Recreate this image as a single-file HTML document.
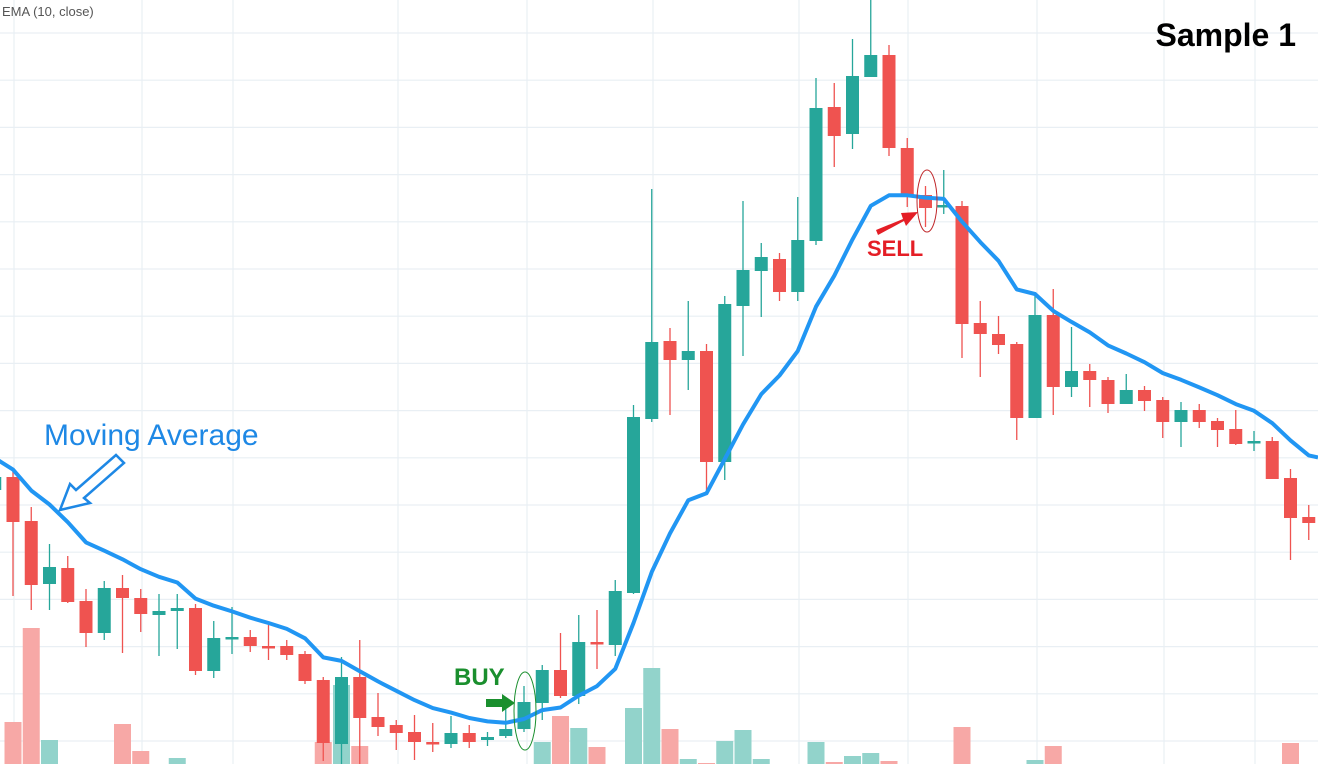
<!DOCTYPE html>
<html><head><meta charset="utf-8"><style>
html,body{margin:0;padding:0;background:#fff;}
svg{display:block;font-family:"Liberation Sans",sans-serif;}
</style></head><body>
<svg id="chart" width="1318" height="764" viewBox="0 0 1318 764" xmlns="http://www.w3.org/2000/svg">
<g id="grid"></g>
<g id="vol"></g>
<g id="candles"></g>
<path id="ema" fill="none" stroke="#2196f3" stroke-width="4" stroke-linejoin="round"/>
<text x="2" y="16" font-size="13" fill="#555">EMA (10, close)</text>
<text x="1296" y="46" font-size="32" font-weight="bold" fill="#000" text-anchor="end">Sample 1</text>
<text x="44" y="445" font-size="30" fill="#1e88e5">Moving Average</text>
<path d="M60,510 L70,484 L76,490 L116,455 L124,463 L84,498 L90,503 Z" fill="#fff" stroke="#1e88e5" stroke-width="2.5"/>
<text x="454" y="685" font-size="24" font-weight="bold" fill="#1a8f2e">BUY</text>
<path d="M486,699 L502,699 L502,694 L515,703 L502,712 L502,707 L486,707 Z" fill="#1a8f2e"/>
<ellipse cx="525" cy="711" rx="11" ry="39" fill="none" stroke="#1a8f2e" stroke-width="1"/>
<text x="867" y="256" font-size="22" font-weight="bold" fill="#e41e26">SELL</text>
<path d="M876,230 L903,219 L901,213 L918,212 L906,226 L904,221 L878,235 Z" fill="#e41e26"/>
<ellipse cx="927" cy="201" rx="10" ry="31" fill="none" stroke="#c0282b" stroke-width="1"/>
</svg>
<script>
// price values (higher = up), one entry per candle
const opens  = [274,287,243,180,196,163,131,176,166,149,153,156,93,125,127,118,118,110,84,20,87,47,39,32,22,20,31,24,28,35,61,94,68,122,119,171,345,423,404,413,302,458,493,505,472,523,657,630,687,709,616,569,557,558,441,430,420,346,449,377,393,384,360,374,364,342,354,343,335,321,323,286,247];
const highs  = [294,292,257,220,208,175,183,189,175,170,170,160,143,157,134,139,124,113,87,107,124,71,44,49,41,48,39,32,57,78,99,131,149,154,184,359,575,436,463,420,468,563,521,511,567,686,681,725,764,719,626,578,594,563,463,448,422,471,475,437,400,387,390,378,367,362,360,346,354,333,327,295,259];
const lows   = [269,168,154,154,161,117,124,111,132,108,115,89,86,110,112,104,104,80,3,0,0,28,14,4,12,16,16,18,26,32,44,66,60,95,108,170,342,349,374,274,284,408,447,463,463,519,597,615,687,608,557,537,550,406,387,410,324,346,349,367,357,351,360,353,326,317,336,317,319,313,285,204,224];
const closes = [287,242,179,197,162,131,176,166,150,153,156,93,126,127,118,117,109,83,21,87,46,37,31,22,20,31,22,27,35,62,94,68,122,121,173,347,422,404,413,302,460,494,507,472,524,656,628,688,709,616,569,556,559,440,430,419,346,449,377,393,384,360,374,363,342,354,342,334,320,323,285,246,241];
const volumes = [0,42,136,24,0,0,0,40,13,0,6,0,0,0,0,0,0,0,22,79,18,0,0,0,0,0,0,0,0,0,22,48,36,17,0,56,96,35,5,1,23,34,5,0,0,22,2,8,11,3,0,0,0,37,0,0,0,4,18,0,0,0,0,0,0,0,0,0,0,0,0,21,0];
const emaPeriod = 10;
const emaSeed = 306;

const NS = "http://www.w3.org/2000/svg";
const xScale = i => -5.25 + i * 18.25;
const yScale = p => 764 - p;
const vScale = v => 764 - v;

const grid = document.getElementById('grid');
for (let n = 0; n < 16; n++) {
  const y = 33 + n * 47.2;
  const l = document.createElementNS(NS, 'line');
  l.setAttribute('x1', 0); l.setAttribute('x2', 1318);
  l.setAttribute('y1', y); l.setAttribute('y2', y);
  l.setAttribute('stroke', '#e9eff4'); l.setAttribute('stroke-width', '1.2');
  
  
  grid.appendChild(l);
}
[14,142,233,398,527,653,799,908,1037,1164,1255].forEach(x => {
  const l = document.createElementNS(NS, 'line');
  l.setAttribute('x1', x); l.setAttribute('x2', x);
  l.setAttribute('y1', 0); l.setAttribute('y2', 764);
  l.setAttribute('stroke', '#e9eff4'); l.setAttribute('stroke-width', '1.2');
  
  
  grid.appendChild(l);
});

const vol = document.getElementById('vol');
volumes.forEach((v, i) => {
  if (v <= 0) return;
  const up = closes[i] >= opens[i];
  const r = document.createElementNS(NS, 'rect');
  r.setAttribute('x', xScale(i) - 8.5); r.setAttribute('width', 17);
  r.setAttribute('y', vScale(v)); r.setAttribute('height', 764 - vScale(v));
  r.setAttribute('fill', up ? '#92d3cb' : '#f7a8a6');
  
  
  vol.appendChild(r);
});

const cg = document.getElementById('candles');
closes.forEach((c, i) => {
  const o = opens[i], up = c >= o, col = up ? '#26a69a' : '#ef5350';
  const x = xScale(i);
  const g = document.createElementNS(NS, 'g');
  
  
  const w = document.createElementNS(NS, 'line');
  w.setAttribute('x1', x); w.setAttribute('x2', x);
  w.setAttribute('y1', yScale(highs[i])); w.setAttribute('y2', yScale(lows[i]));
  w.setAttribute('stroke', col); w.setAttribute('stroke-width', 1.3);
  
  
  g.appendChild(w);
  const top = yScale(Math.max(o, c)), bot = yScale(Math.min(o, c));
  const b = document.createElementNS(NS, 'rect');
  b.setAttribute('x', x - 6.5); b.setAttribute('width', 13);
  b.setAttribute('y', top); b.setAttribute('height', Math.max(2.5, bot - top));
  b.setAttribute('fill', col);
  
  
  g.appendChild(b);
  cg.appendChild(g);
});

const k = 2 / (emaPeriod + 1);
let e = emaSeed, d = '';
closes.forEach((c, i) => {
  e = i === 0 ? emaSeed : e + (c - e) * k;
  d += (i === 0 ? 'M' : 'L') + xScale(i).toFixed(1) + ',' + yScale(e).toFixed(1);
});
d += 'L1318,' + (yScale(e) + 2).toFixed(1);
document.getElementById('ema').setAttribute('d', d);
</script>
</body></html>
